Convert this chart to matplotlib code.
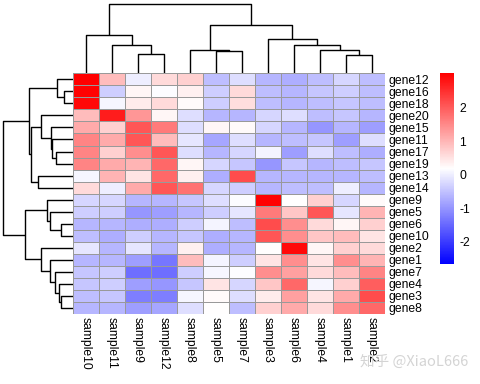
import matplotlib
matplotlib.use("Agg")
import matplotlib.pyplot as plt
import numpy as np
from matplotlib.colors import LinearSegmentedColormap, Normalize
from matplotlib.cm import ScalarMappable

plt.rcParams["font.family"] = ["Liberation Sans", "DejaVu Sans"]
plt.rcParams["axes.unicode_minus"] = False

samples = ["sample10", "sample11", "sample9", "sample12", "sample8", "sample5",
           "sample7", "sample3", "sample6", "sample4", "sample1", "sample2"]
genes = ["gene12", "gene16", "gene18", "gene20", "gene15", "gene11", "gene17",
         "gene19", "gene13", "gene14", "gene9", "gene5", "gene6", "gene10",
         "gene2", "gene1", "gene7", "gene4", "gene3", "gene8"]

values = [
    [3.04, 0.93, 0.01, 0.61, 0.72, -0.53, -0.17, -0.62, -0.71, -0.53, -0.26, -0.53],
    [3.00, -0.35, 0.30, 0.15, 0.35, -0.35, 0.61, -0.53, -0.62, -0.44, -0.35, -0.53],
    [2.95, 0.10, 0.40, 0.61, 0.24, -0.35, 0.56, -0.53, -0.62, -0.53, -0.44, -0.53],
    [0.93, 2.71, 1.35, 0.30, -0.17, -0.62, -0.62, -0.26, -0.17, -0.53, -0.44, -0.62],
    [1.14, 0.72, 2.08, 1.66, -0.17, 0.30, 0.24, -0.26, -0.62, -0.98, -0.62, -0.89],
    [1.56, 1.14, 2.08, 0.93, -0.08, -0.80, -0.17, -0.62, -0.53, -0.44, -0.89, -0.17],
    [1.56, 0.72, 1.45, 2.08, -0.17, -0.62, -0.26, 0.06, -0.89, -0.17, -0.53, -0.71],
    [1.56, 1.14, 1.03, 1.87, 0.30, -0.26, -0.44, -0.98, -0.44, -0.62, -0.53, -0.44],
    [0.10, 1.03, 0.50, 1.87, 0.35, -0.71, 2.19, -0.62, -0.62, -0.62, -0.62, -0.53],
    [0.61, 0.01, 1.14, 2.08, 1.77, -0.26, -0.35, -0.62, -0.53, -0.53, 0.01, -0.62],
    [-0.26, -0.26, -0.62, -0.62, -0.44, -0.17, 0.15, 3.00, 0.19, 0.72, -0.26, 0.24],
    [-0.35, -0.35, -0.98, -0.89, -0.62, -0.35, -0.08, 1.66, 0.82, 2.08, -0.08, 1.03],
    [-0.62, -0.62, -0.71, -0.71, -0.35, 0.06, -0.53, 2.19, 1.45, 0.61, 0.30, 0.72],
    [-0.53, -0.71, -0.35, -0.62, -0.44, -0.71, -0.62, 2.08, 1.45, 0.82, 0.93, 0.50],
    [-0.08, -0.62, -0.08, -0.62, 0.35, -0.71, -0.62, 0.19, 2.95, 0.30, 0.72, 0.61],
    [-0.62, -0.62, -0.89, -1.34, 0.93, 0.06, -0.35, 0.50, 1.45, 0.50, 1.45, 1.03],
    [-0.44, -0.35, -1.43, -1.43, -0.35, 0.10, 0.15, 1.45, 1.24, 0.61, 0.93, 1.56],
    [-0.44, -0.35, -0.89, -0.98, -0.44, 0.50, -0.26, 0.82, 1.87, 0.10, 0.72, 1.98],
    [-0.53, -0.44, -1.25, -1.25, 0.10, 0.24, -0.17, 0.40, 1.24, 0.50, 1.14, 2.19],
    [-0.62, -0.62, -0.89, -0.80, -0.17, 0.19, -0.53, 0.72, 1.14, 0.61, 1.45, 1.87],
]

# merges: (left, right, height); ints refer to earlier merges
col_merges = [
    ("sample9", "sample12", 1.97),
    ("sample11", 0, 2.87),
    ("sample10", 1, 3.87),
    ("sample5", "sample7", 2.27),
    ("sample8", 3, 2.37),
    ("sample1", "sample2", 1.87),
    ("sample4", 5, 2.37),
    ("sample6", 6, 2.87),
    ("sample3", 7, 3.47),
    (4, 8, 4.87),
    (2, 9, 6.97),
]
row_merges = [
    ("gene16", "gene18", 0.90),
    ("gene12", 0, 1.63),
    ("gene17", "gene19", 1.70),
    ("gene11", 2, 2.07),
    ("gene15", 3, 2.20),
    ("gene20", 4, 3.23),
    ("gene13", "gene14", 3.47),
    (5, 6, 4.23),
    (1, 7, 4.43),
    ("gene6", "gene10", 1.23),
    ("gene5", 9, 2.30),
    ("gene9", 10, 2.63),
    ("gene3", "gene8", 1.23),
    ("gene4", 12, 1.40),
    ("gene7", 13, 1.80),
    ("gene1", 14, 2.30),
    ("gene2", 15, 3.23),
    (11, 16, 4.80),
    (8, 17, 6.97),
]


def dendro_segments(merges, leaves):
    pos, hts = {}, {}
    segs = []
    for i, (a, b, h) in enumerate(merges):
        pa = pos[a] if isinstance(a, int) else leaves.index(a) + 0.5
        pb = pos[b] if isinstance(b, int) else leaves.index(b) + 0.5
        ha = hts[a] if isinstance(a, int) else 0.0
        hb = hts[b] if isinstance(b, int) else 0.0
        segs.append(([pa, pa, pb, pb], [ha, h, h, hb]))
        pos[i] = (pa + pb) / 2
        hts[i] = h
    return segs


fig = plt.figure(figsize=(4.8, 3.84), dpi=100)

cmap = LinearSegmentedColormap.from_list("bwr2", ["blue", "white", "red"])
norm = Normalize(vmin=-2.66, vmax=3.04)

ax = fig.add_axes([73 / 480, 1 - 314 / 384, 312 / 480, 240.7 / 384])
ax.pcolormesh(np.array(values), cmap=cmap, norm=norm, edgecolors="#999999", linewidth=0.7)
ax.set_xlim(0, len(samples))
ax.set_ylim(len(genes), 0)
ax.set_xticks(np.arange(len(samples)) + 0.5)
ax.set_xticklabels(samples, rotation=-90, fontsize=8.7)
ax.set_yticks(np.arange(len(genes)) + 0.5)
ax.set_yticklabels(genes, fontsize=8.7)
ax.yaxis.tick_right()
ax.tick_params(length=0, pad=2.5)
for s in ax.spines.values():
    s.set_visible(False)

# column dendrogram
axc = fig.add_axes([73 / 480, 1 - 73.3 / 384, 312 / 480, 73.3 / 384])
for xs, ys in dendro_segments(col_merges, samples):
    axc.plot(xs, ys, color="black", lw=1.0, solid_capstyle="butt")
axc.set_xlim(0, len(samples))
axc.set_ylim(0, 6.97 * 73.3 / 69.7)
axc.axis("off")

# row dendrogram
axr = fig.add_axes([0, 1 - 314 / 384, 73 / 480, 240.7 / 384])
for ys, xs in dendro_segments(row_merges, genes):
    axr.plot(xs, ys, color="black", lw=1.0, solid_capstyle="butt")
axr.set_ylim(len(genes), 0)
axr.set_xlim(6.97 * 73 / 69.7, 0)
axr.axis("off")

# legend bar
axl = fig.add_axes([440 / 480, 1 - 264 / 384, 14 / 480, 191 / 384])
cb = fig.colorbar(ScalarMappable(norm=norm, cmap=cmap), cax=axl, ticks=[-2, -1, 0, 1, 2])
cb.outline.set_visible(False)
axl.tick_params(length=0, pad=4, labelsize=8.7)

fig.text(414 / 480, 1 - 362 / 384, "知乎 @XiaoL666", family=["Noto Sans CJK SC", "DejaVu Sans"],
         fontsize=10.5, color="#d4d4d4", ha="center", va="center")

fig.savefig("out.png", dpi=100)
